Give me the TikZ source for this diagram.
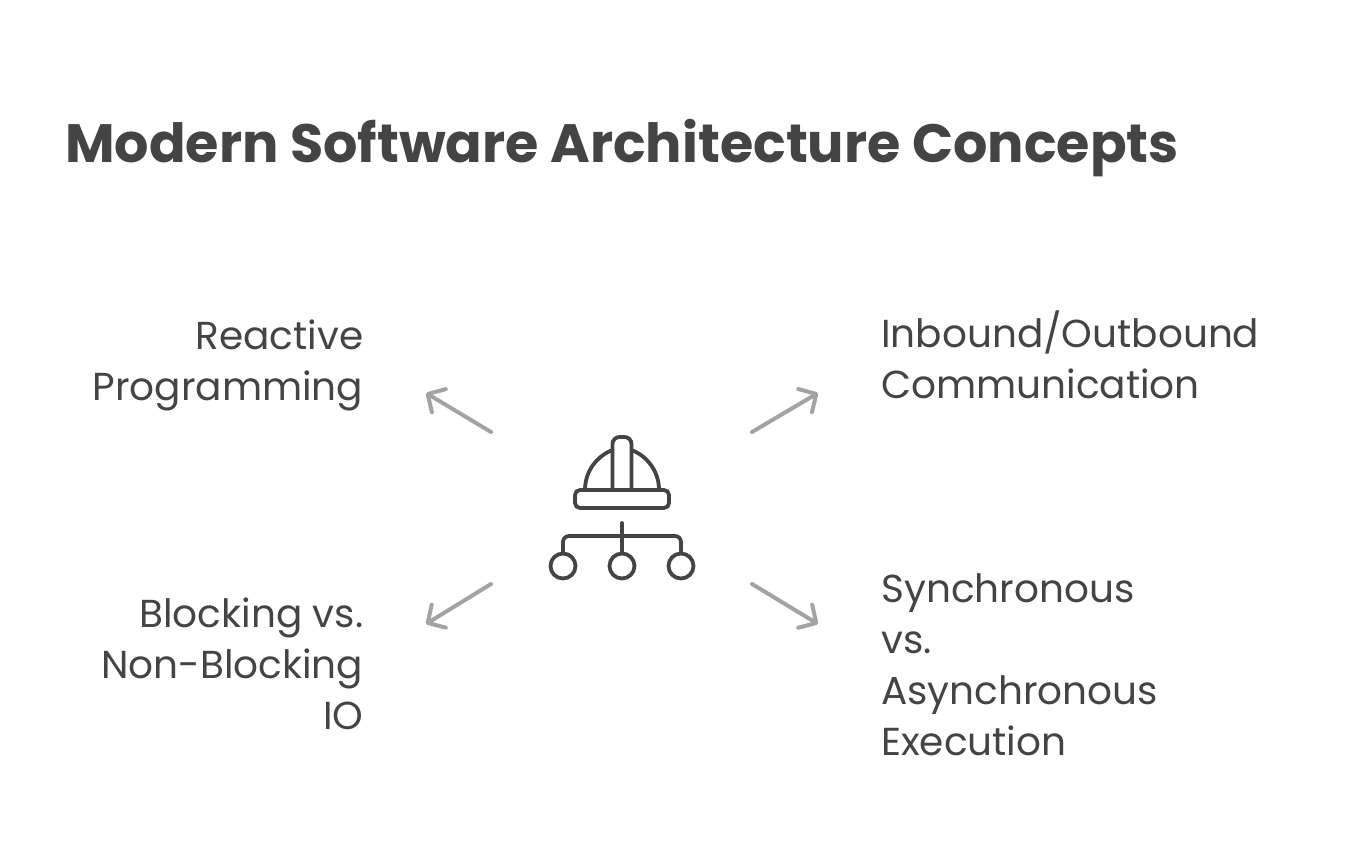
\documentclass[tikz,border=0pt]{standalone}
\usepackage{fontspec}
\setmainfont{Poppins}
\usepackage{xcolor}
\usetikzlibrary{arrows.meta}
\definecolor{inkgray}{HTML}{444444}
\definecolor{arrowgray}{HTML}{A3A3A3}
\begin{document}
\begin{tikzpicture}
      [x=1pt,y=-1pt,
      every node/.style={text=inkgray, inner sep=0pt},
      label/.style={font=\fontsize{39}{51}\selectfont},
      spoke/.style={draw=arrowgray, line width=4pt, line cap=round, -{Straight Barb[length=13pt,width=27pt,line width=4pt,round]}},
      icon/.style={draw=inkgray, line width=3.8pt, line cap=round},
      leaf/.style={circle, draw=inkgray, line width=3.8pt, minimum size=25pt},
      ]
      \useasboundingbox (0,0) rectangle (1358,864);
      \node[anchor=base west, font=\fontsize{54}{60}\selectfont\bfseries] (title) at (65,162.5) {Modern Software Architecture Concepts};
      % four labels
      \node[label, anchor=north east, align=right] (reactive) at (363.5,320) {Reactive\\Programming};
      \node[label, anchor=north west, align=left] (inbound) at (881,311) {Inbound/Outbound\\Communication};
      \node[label, anchor=north east, align=right] (blocking) at (363.5,598) {Blocking vs.\\Non-Blocking\\IO};
      \node[label, anchor=north west, align=left] (sync) at (881,573) {Synchronous\\vs.\\Asynchronous\\Execution};
      % arrows
      \coordinate (nw) at (491,432);
      \coordinate (ne) at (752,432);
      \coordinate (sw) at (491,584);
      \coordinate (se) at (752,584);
      \coordinate (reactivetip) at (426,393);
      \coordinate (inboundtip) at (818,393);
      \coordinate (blockingtip) at (426,624);
      \coordinate (synctip) at (818,624);
      \draw[spoke] (nw) -- (reactivetip);
      \draw[spoke] (ne) -- (inboundtip);
      \draw[spoke] (sw) -- (blockingtip);
      \draw[spoke] (se) -- (synctip);
      % helmet
      \draw[icon, rounded corners=5pt] (575,490) rectangle (669,508);
      \draw[icon, rounded corners=7pt] (612.5,490) -- (612.5,437) -- (631.5,437) -- (631.5,490);
      \draw[icon] (585,490) .. controls (585,471) and (597,456) .. (612.5,450);
      \draw[icon] (659,490) .. controls (659,471) and (647,456) .. (631.5,450);
      % tree under the helmet
      \node[leaf] (leafa) at (563,566) {};
      \node[leaf] (leafb) at (622,566) {};
      \node[leaf] (leafc) at (681,566) {};
      \coordinate (stem) at (622,523);
      \draw[icon] (stem) -- (leafb);
      \draw[icon, rounded corners=6pt] (leafa) -- (563,536) -- (681,536) -- (leafc);
      \end{tikzpicture}
\end{document}
